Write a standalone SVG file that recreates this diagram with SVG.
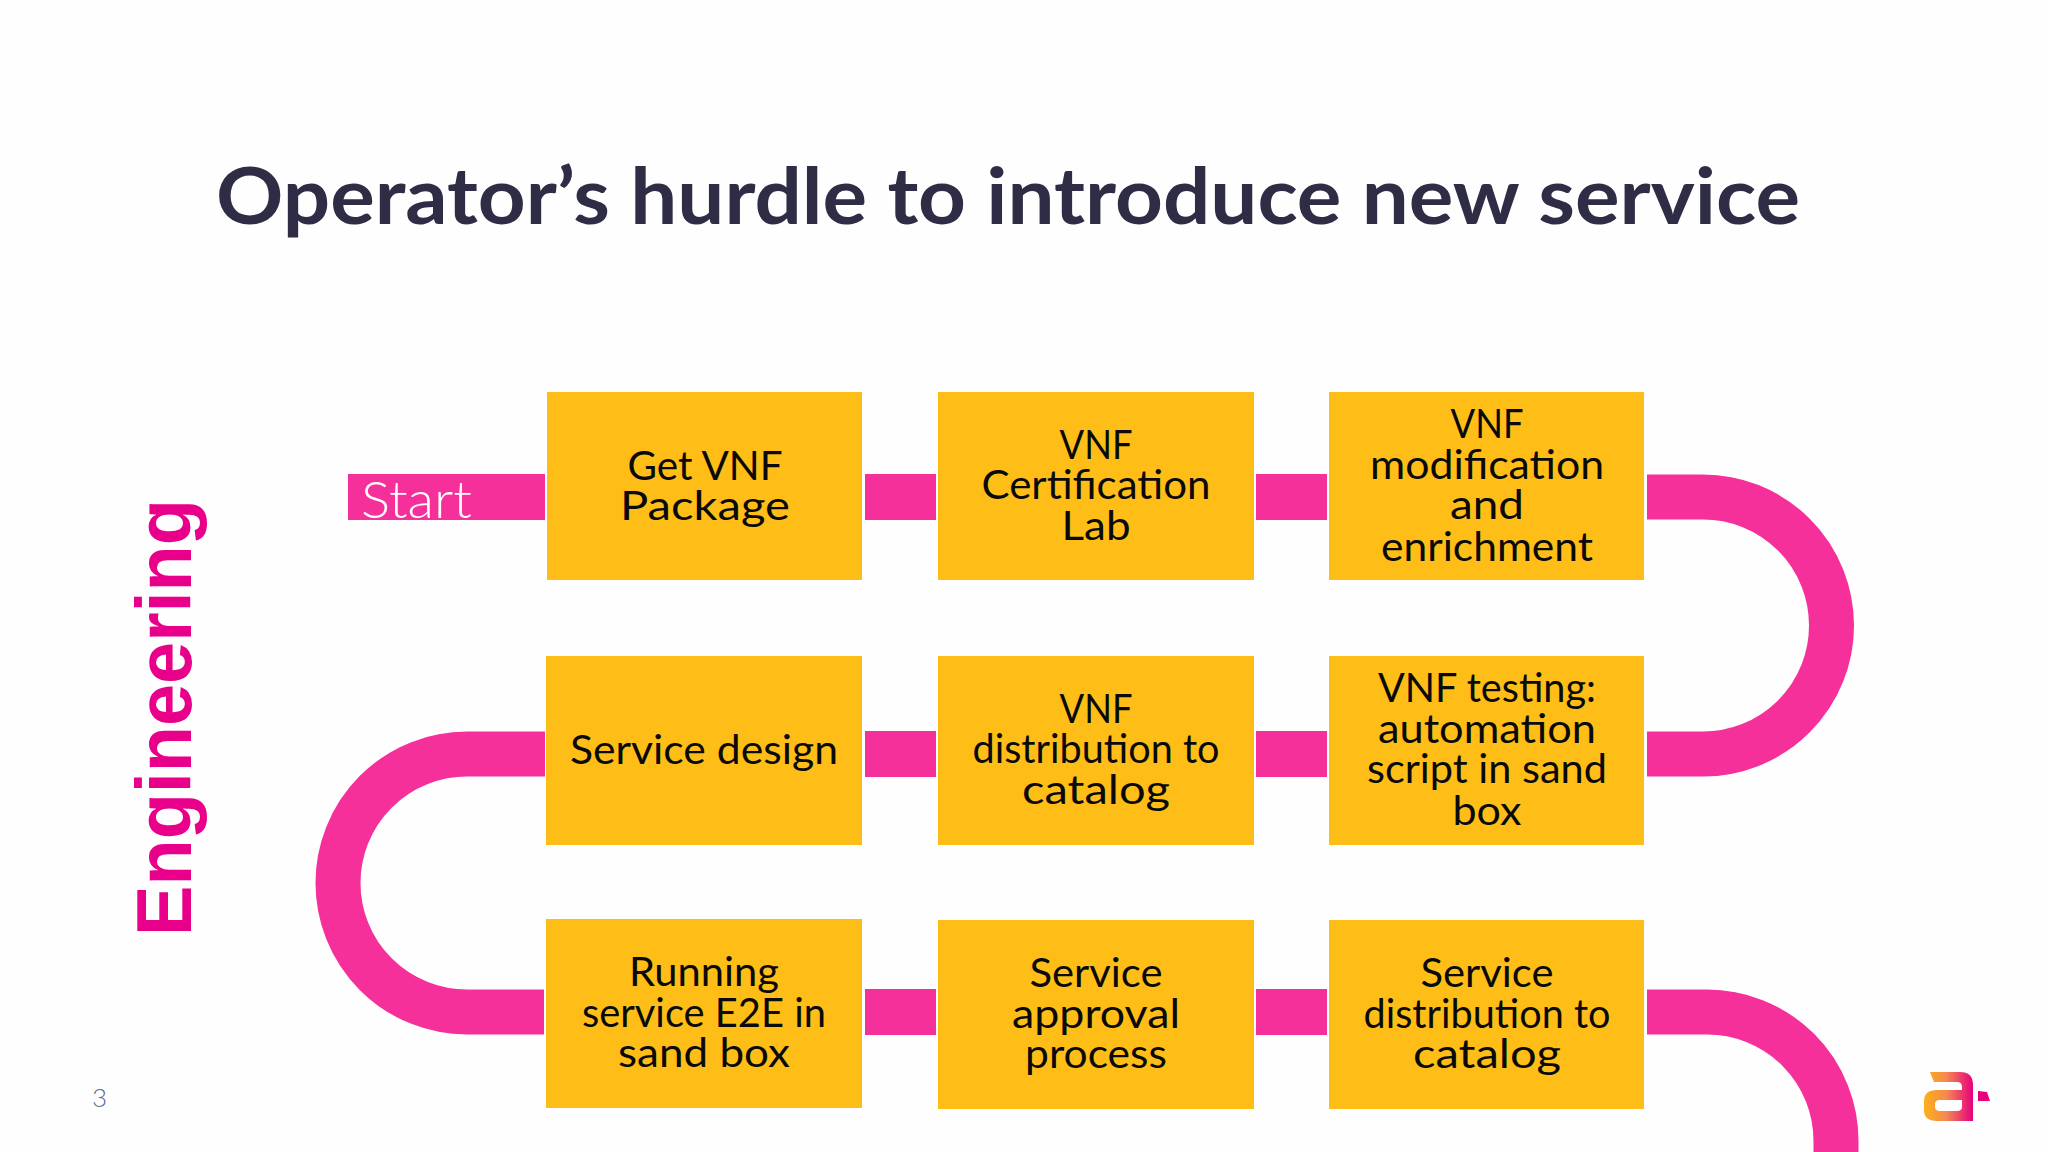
<svg xmlns="http://www.w3.org/2000/svg" width="2048" height="1152" viewBox="0 0 2048 1152">
<style>
.box{fill:#FEBE17}
.t{font-family:"Lato","Liberation Sans",sans-serif;font-size:40px;fill:#0a0a0a;text-anchor:middle}
.c{fill:none;stroke:#F5309B;stroke-width:45}
.b{fill:#F5309B}
</style>
<defs><linearGradient id="lg" x1="0" x2="1" y1="0" y2="0"><stop offset="0" stop-color="#FBB116"/><stop offset=".45" stop-color="#F58A50"/><stop offset="1" stop-color="#E6007E"/></linearGradient></defs>
<rect width="2048" height="1152" fill="#fefefe"/>
<text id="title" x="1008" y="224" text-anchor="middle" font-family="Lato,'Liberation Sans',sans-serif" font-weight="700" font-size="79" fill="#2E2D45" textLength="1584" lengthAdjust="spacingAndGlyphs">Operator’s hurdle to introduce new service</text>
<text id="side" transform="translate(191,936) rotate(-90)" font-family="'Liberation Sans',sans-serif" font-weight="700" font-size="78" fill="#E9008A" textLength="437" lengthAdjust="spacingAndGlyphs">Engineering</text>
<g id="connectors">
<rect class="b" x="348" y="474" width="197" height="46"/>
<rect class="b" x="865" y="474" width="71" height="46"/>
<rect class="b" x="1256" y="474" width="71" height="46"/>
<rect class="b" x="865" y="731" width="71" height="46"/>
<rect class="b" x="1256" y="731" width="71" height="46"/>
<rect class="b" x="865" y="989" width="71" height="46"/>
<rect class="b" x="1256" y="989" width="71" height="46"/>
<path class="c" d="M1647 497H1703A128.500 128.500 0 0 1 1703 754H1647"/>
<path class="c" d="M545 754H467A129 129 0 0 0 467 1012H544"/>
<path class="c" d="M1647 1012H1707A129 129 0 0 1 1836 1141V1152"/>
</g>
<text id="start" x="361" y="518" font-family="Lato,'Liberation Sans',sans-serif" font-weight="300" font-size="52" fill="#fff" textLength="111" lengthAdjust="spacingAndGlyphs">Start</text>
<g id="n1"><rect class="box" x="547" y="392" width="315" height="188"/>
<text class="t" x="705" y="480" textLength="155" lengthAdjust="spacingAndGlyphs">Get VNF</text>
<text class="t" x="705" y="520" textLength="170" lengthAdjust="spacingAndGlyphs">Package</text></g>
<g id="n2"><rect class="box" x="938" y="392" width="316" height="188"/>
<text class="t" x="1096" y="459" textLength="73" lengthAdjust="spacingAndGlyphs">VNF</text>
<text class="t" x="1096" y="499" textLength="229" lengthAdjust="spacingAndGlyphs">Certification</text>
<text class="t" x="1096" y="540" textLength="69" lengthAdjust="spacingAndGlyphs">Lab</text></g>
<g id="n3"><rect class="box" x="1329" y="392" width="315" height="188"/>
<text class="t" x="1487" y="438" textLength="73" lengthAdjust="spacingAndGlyphs">VNF</text>
<text class="t" x="1487" y="479" textLength="234" lengthAdjust="spacingAndGlyphs">modification</text>
<text class="t" x="1487" y="519" textLength="74" lengthAdjust="spacingAndGlyphs">and</text>
<text class="t" x="1487" y="561" textLength="212" lengthAdjust="spacingAndGlyphs">enrichment</text></g>
<g id="n4"><rect class="box" x="546" y="656" width="316" height="189"/>
<text class="t" x="704" y="764" textLength="268" lengthAdjust="spacingAndGlyphs">Service design</text></g>
<g id="n5"><rect class="box" x="938" y="656" width="316" height="189"/>
<text class="t" x="1096" y="723" textLength="73" lengthAdjust="spacingAndGlyphs">VNF</text>
<text class="t" x="1096" y="763" textLength="247" lengthAdjust="spacingAndGlyphs">distribution to</text>
<text class="t" x="1096" y="804" textLength="148" lengthAdjust="spacingAndGlyphs">catalog</text></g>
<g id="n6"><rect class="box" x="1329" y="656" width="315" height="189"/>
<text class="t" x="1487" y="702" textLength="218" lengthAdjust="spacingAndGlyphs">VNF testing:</text>
<text class="t" x="1487" y="743" textLength="218" lengthAdjust="spacingAndGlyphs">automation</text>
<text class="t" x="1487" y="783" textLength="240" lengthAdjust="spacingAndGlyphs">script in sand</text>
<text class="t" x="1487" y="825" textLength="69" lengthAdjust="spacingAndGlyphs">box</text></g>
<g id="n7"><rect class="box" x="546" y="919" width="316" height="189"/>
<text class="t" x="704" y="986" textLength="150" lengthAdjust="spacingAndGlyphs">Running</text>
<text class="t" x="704" y="1027" textLength="244" lengthAdjust="spacingAndGlyphs">service E2E in</text>
<text class="t" x="704" y="1067" textLength="172" lengthAdjust="spacingAndGlyphs">sand box</text></g>
<g id="n8"><rect class="box" x="938" y="920" width="316" height="189"/>
<text class="t" x="1096" y="987" textLength="133" lengthAdjust="spacingAndGlyphs">Service</text>
<text class="t" x="1096" y="1028" textLength="168" lengthAdjust="spacingAndGlyphs">approval</text>
<text class="t" x="1096" y="1068" textLength="142" lengthAdjust="spacingAndGlyphs">process</text></g>
<g id="n9"><rect class="box" x="1329" y="920" width="315" height="189"/>
<text class="t" x="1487" y="987" textLength="133" lengthAdjust="spacingAndGlyphs">Service</text>
<text class="t" x="1487" y="1028" textLength="247" lengthAdjust="spacingAndGlyphs">distribution to</text>
<text class="t" x="1487" y="1068" textLength="148" lengthAdjust="spacingAndGlyphs">catalog</text></g>
<text id="page" x="92" y="1107" font-family="Lato,'Liberation Sans',sans-serif" font-size="26" font-weight="300" fill="#5A6C9E">3</text>
<g id="logo">
<path fill="url(#lg)" fill-rule="evenodd" d="M1930 1072H1960Q1973 1072 1973 1085V1121H1937Q1924 1121 1924 1110V1101Q1924 1090 1937 1090H1962V1087Q1962 1082 1957 1082H1934ZM1962 1100H1940Q1935 1100 1935 1104V1107Q1935 1111 1940 1111H1957Q1962 1111 1962 1107Z"/>
<path fill="#E6007E" d="M1978 1091L1987 1092L1990 1101H1978Z"/>
</g>
</svg>
